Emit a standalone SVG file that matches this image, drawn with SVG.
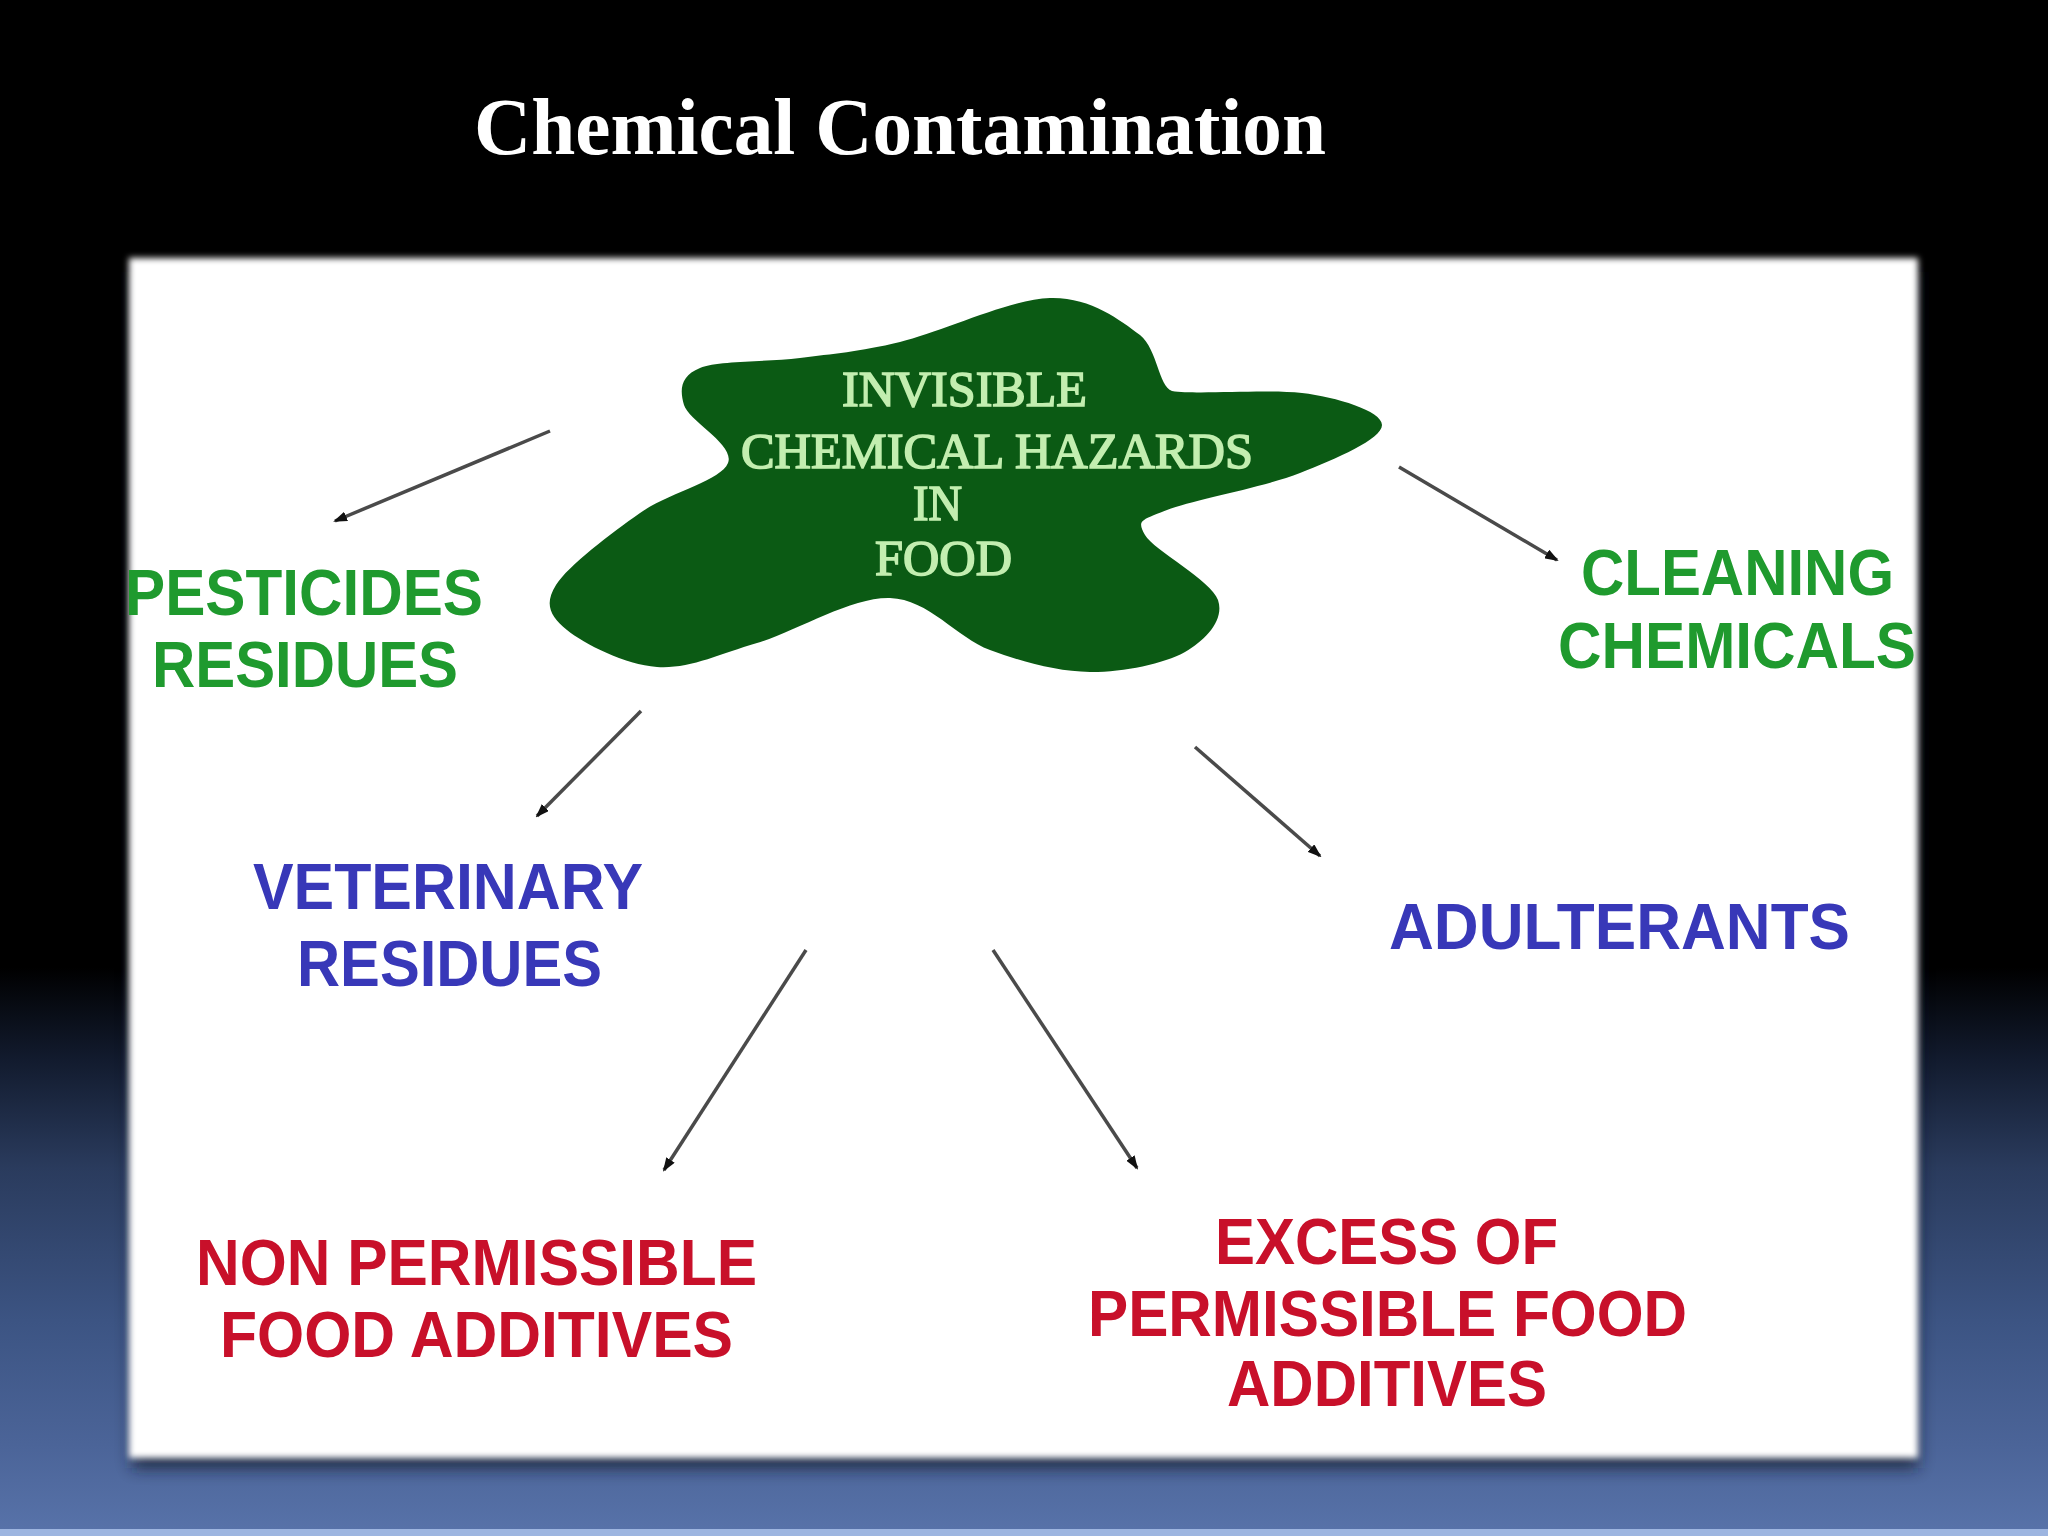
<svg xmlns="http://www.w3.org/2000/svg" width="2048" height="1536" viewBox="0 0 2048 1536">
  <defs>
    <linearGradient id="bg" x1="0" y1="0" x2="0" y2="1536" gradientUnits="userSpaceOnUse">
      <stop offset="0" stop-color="#000000"/>
      <stop offset="0.63" stop-color="#000000"/>
      <stop offset="0.69" stop-color="#121b2e"/>
      <stop offset="0.76" stop-color="#2a3b5d"/>
      <stop offset="0.86" stop-color="#3c5483"/>
      <stop offset="0.94" stop-color="#4b6498"/>
      <stop offset="1" stop-color="#5873aa"/>
    </linearGradient>
    <filter id="soft" x="-5%" y="-5%" width="110%" height="110%">
      <feGaussianBlur stdDeviation="3"/>
    </filter>
    <filter id="shadow" x="-10%" y="-10%" width="120%" height="120%">
      <feGaussianBlur stdDeviation="8"/>
    </filter>
    <marker id="ah" markerWidth="14" markerHeight="10" refX="12" refY="5" orient="auto" markerUnits="userSpaceOnUse">
      <path d="M0,0 L14,5 L0,10 z" fill="#111111"/>
    </marker>
  </defs>
  <style>
    .title { font-family: "Liberation Serif", "Times New Roman", serif; font-weight: bold; font-size: 80px; fill: #ffffff; }
    .blobtext { font-family: "Liberation Serif", "Times New Roman", serif; font-size: 50px; fill: #c3eeb0; stroke: #c3eeb0; stroke-width: 1.6; }
    .lbl { font-family: "Liberation Sans", Arial, sans-serif; font-weight: bold; font-size: 64px; }
    .green { fill: #1f9a2e; }
    .blue { fill: #3838b8; }
    .red { fill: #c8102a; }
    .conn { stroke: #4a4a4a; stroke-width: 3.5; fill: none; marker-end: url(#ah); }
  </style>

  <!-- background -->
  <rect x="0" y="0" width="2048" height="1536" fill="url(#bg)"/>
  <rect x="0" y="1529" width="2048" height="7" fill="#9db5e0"/>

  <!-- panel -->
  <rect x="132" y="272" width="1786" height="1196" fill="#141c2e" opacity="0.8" filter="url(#shadow)"/>
  <rect x="129" y="258" width="1789" height="1200" fill="#ffffff" filter="url(#soft)"/>

  <!-- title -->
  <g id="title">
    <text class="title" x="474" y="154" textLength="852" lengthAdjust="spacingAndGlyphs">Chemical Contamination</text>
  </g>

  <!-- connectors -->
  <g id="connectors">
    <line class="conn" x1="550" y1="431" x2="335" y2="521"/>
    <line class="conn" x1="641" y1="711" x2="537" y2="816"/>
    <line class="conn" x1="1399" y1="467" x2="1557" y2="560"/>
    <line class="conn" x1="1195" y1="747" x2="1320" y2="856"/>
    <line class="conn" x1="806" y1="950" x2="664" y2="1170"/>
    <line class="conn" x1="993" y1="950" x2="1137" y2="1168"/>
  </g>

  <!-- central blob -->
  <g id="hazards">
    <path fill="#0b5a14" d="M684,405 C679.3,389.2 680.7,375.8 700,368 C719.3,360.2 766.7,362.3 800,358 C833.3,353.7 858.3,352 900,342 C941.7,332 1010,299.2 1050,298 C1090,296.8 1119.7,319.8 1140,335 C1158,350 1158,386 1172,391 C1198,395 1262,389 1302,393 C1336,397 1382,410.8 1382,425 C1382,439.2 1335.8,458.8 1300,473 C1264.2,487.2 1192.8,499.7 1167,510 C1141.2,520.3 1136.5,520 1145,535 C1153.5,550 1211.3,580.5 1218,600 C1224.7,619.5 1206.3,640 1185,652 C1163.7,664 1122.5,672.3 1090,672 C1057.5,671.7 1023.3,662.3 990,650 C956.7,637.7 928.8,599.2 890,598 C851.2,596.8 795.8,631.5 757,643 C718.2,654.5 688.7,669.2 657,667 C625.3,664.8 583.8,643.7 567,630 C550.2,616.3 543.8,604.5 556,585 C568.2,565.5 611.3,533.3 640,513 C668.7,492.7 720.7,481 728,463 C735.3,445 688.7,420.8 684,405 Z"/>
    <text class="blobtext" x="842" y="406" textLength="245" lengthAdjust="spacingAndGlyphs">INVISIBLE</text>
    <text class="blobtext" x="741" y="468" textLength="512" lengthAdjust="spacingAndGlyphs">CHEMICAL HAZARDS</text>
    <text class="blobtext" x="913" y="520" textLength="49" lengthAdjust="spacingAndGlyphs">IN</text>
    <text class="blobtext" x="875" y="575" textLength="137" lengthAdjust="spacingAndGlyphs">FOOD</text>
  </g>

  <g id="pesticides">
    <text class="lbl green" x="125" y="615" textLength="358" lengthAdjust="spacingAndGlyphs">PESTICIDES</text>
    <text class="lbl green" x="152" y="687" textLength="306" lengthAdjust="spacingAndGlyphs">RESIDUES</text>
  </g>

  <g id="cleaning">
    <text class="lbl green" x="1581" y="595" textLength="313" lengthAdjust="spacingAndGlyphs">CLEANING</text>
    <text class="lbl green" x="1558" y="668" textLength="358" lengthAdjust="spacingAndGlyphs">CHEMICALS</text>
  </g>

  <g id="veterinary">
    <text class="lbl blue" x="253" y="909" textLength="390" lengthAdjust="spacingAndGlyphs">VETERINARY</text>
    <text class="lbl blue" x="297" y="986" textLength="305" lengthAdjust="spacingAndGlyphs">RESIDUES</text>
  </g>

  <g id="adulterants">
    <text class="lbl blue" x="1389" y="949" textLength="461" lengthAdjust="spacingAndGlyphs">ADULTERANTS</text>
  </g>

  <g id="non-permissible">
    <text class="lbl red" x="196" y="1285" textLength="561" lengthAdjust="spacingAndGlyphs">NON PERMISSIBLE</text>
    <text class="lbl red" x="220" y="1357" textLength="513" lengthAdjust="spacingAndGlyphs">FOOD ADDITIVES</text>
  </g>

  <g id="excess">
    <text class="lbl red" x="1215" y="1264" textLength="343" lengthAdjust="spacingAndGlyphs">EXCESS OF</text>
    <text class="lbl red" x="1088" y="1336" textLength="599" lengthAdjust="spacingAndGlyphs">PERMISSIBLE FOOD</text>
    <text class="lbl red" x="1227" y="1406" textLength="320" lengthAdjust="spacingAndGlyphs">ADDITIVES</text>
  </g>
</svg>
